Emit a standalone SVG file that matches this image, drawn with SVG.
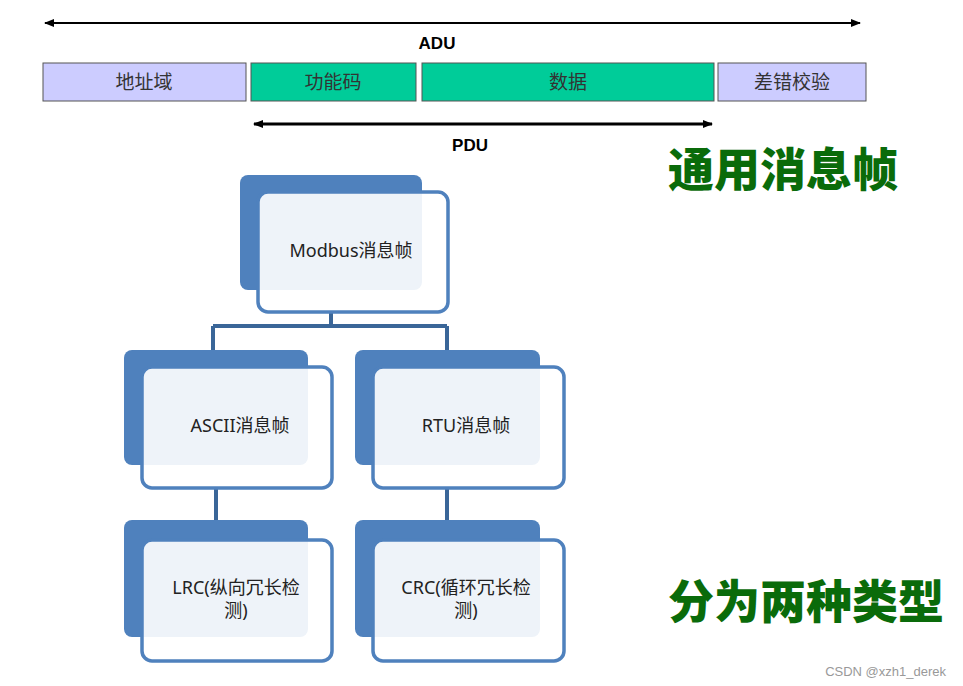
<svg xmlns="http://www.w3.org/2000/svg" width="963" height="686" viewBox="0 0 963 686">
<style>
.cell{stroke:#555;stroke-width:1}
.ct{font-family:"Noto Sans CJK SC",serif;font-size:19px;fill:#333;text-anchor:middle}
.lb{font-family:"Liberation Sans",sans-serif;font-weight:bold;font-size:17px;text-anchor:middle}
.back{fill:#4f81bd}
.front{fill:#ffffff;fill-opacity:0.9;stroke:#4f81bd;stroke-width:3.5}
.nt{font-family:"Noto Sans","Noto Sans CJK SC",sans-serif;font-size:18px;fill:#222;text-anchor:middle}
.big{font-family:"Noto Sans CJK SC",sans-serif;font-weight:900;font-size:46px;fill:#0a6b0a}
.conn{stroke:#3a6698;stroke-width:4;fill:none}
</style>
<defs><marker id="ah" markerWidth="10" markerHeight="8" refX="9" refY="4" orient="auto-start-reverse" markerUnits="userSpaceOnUse"><path d="M0,0L10,4L0,8z" fill="#000"/></marker></defs>
<rect width="963" height="686" fill="#fff"/>
<g id="frame">
<line x1="45" y1="23" x2="860" y2="23" stroke="#000" stroke-width="2" marker-start="url(#ah)" marker-end="url(#ah)"/>
<text class="lb" x="437" y="49">ADU</text>
<rect class="cell" x="43" y="63" width="203" height="38" fill="#ccccff"/>
<rect class="cell" x="251" y="63" width="165" height="38" fill="#00cc99"/>
<rect class="cell" x="422" y="63" width="292" height="38" fill="#00cc99"/>
<rect class="cell" x="718" y="63" width="148" height="38" fill="#ccccff"/>
<text class="ct" x="144" y="89">地址域</text>
<text class="ct" x="333" y="89">功能码</text>
<text class="ct" x="568" y="89">数据</text>
<text class="ct" x="792" y="89">差错校验</text>
<line x1="254" y1="124" x2="712" y2="124" stroke="#000" stroke-width="3" marker-start="url(#ah)" marker-end="url(#ah)"/>
<text class="lb" x="470" y="151">PDU</text>
</g>
<g id="connectors">
<path class="conn" d="M331,312V326M213,326H447M213,326V367M447,326V367M216,488V540M447,488V540"/>
</g>
<g id="modbus"><rect class="back" x="240" y="175" width="182" height="115" rx="8"/><rect class="front" x="258" y="192" width="190" height="120" rx="10"/><text class="nt" x="351" y="257">Modbus消息帧</text></g>
<g id="ascii"><rect class="back" x="124" y="350" width="184" height="115" rx="8"/><rect class="front" x="142" y="367" width="190" height="121" rx="10"/><text class="nt" x="240" y="432">ASCII消息帧</text></g>
<g id="rtu"><rect class="back" x="355" y="350" width="185" height="115" rx="8"/><rect class="front" x="373" y="367" width="191" height="121" rx="10"/><text class="nt" x="466" y="432">RTU消息帧</text></g>
<g id="lrc"><rect class="back" x="124" y="520" width="184" height="117" rx="8"/><rect class="front" x="142" y="540" width="190" height="121" rx="10"/><text class="nt" x="236" y="594">LRC(纵向冗长检</text><text class="nt" x="236" y="617">测)</text></g>
<g id="crc"><rect class="back" x="355" y="520" width="185" height="117" rx="8"/><rect class="front" x="373" y="540" width="191" height="121" rx="10"/><text class="nt" x="466" y="594">CRC(循环冗长检</text><text class="nt" x="466" y="617">测)</text></g>
<text class="big" x="668" y="186">通用消息帧</text>
<text class="big" x="668" y="618">分为两种类型</text>
<text x="946" y="676" font-family="Liberation Sans,sans-serif" font-size="13" fill="#999" text-anchor="end">CSDN @xzh1_derek</text>
</svg>
